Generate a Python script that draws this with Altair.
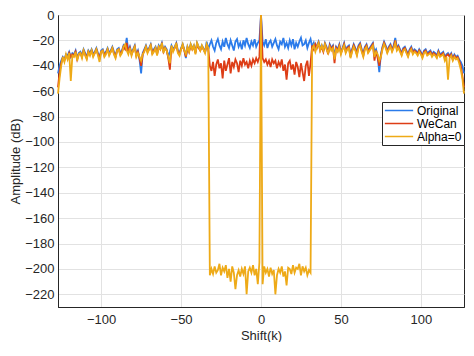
import altair as alt
import pandas as pd

shift = list(range(-127, 128))

original = [
    -46, -40, -36, -33, -35, -31, -32, -29, -33, -30,
    -31, -28, -34, -30, -29, -32, -27, -30, -33, -28,
    -30, -27, -31, -29, -26, -30, -33, -28, -27, -31,
    -29, -26, -30, -28, -25, -29, -32, -27, -26, -30,
    -28, -24, -26, -18, -29, -25, -30, -27, -24, -31,
    -28, -35, -46, -30, -27, -24, -28, -26, -23, -29,
    -27, -25, -30, -24, -26, -22, -28, -25, -27, -33,
    -29, -24, -27, -25, -22, -28, -30, -26, -23, -27,
    -34, -25, -28, -23, -26, -24, -29, -22, -25, -27,
    -24, -26, -30, -21, -27, -23, -20, -25, -28, -22,
    -19, -24, -27, -21, -25, -18, -23, -26, -20, -24,
    -28, -21, -19, -25, -22, -27, -20, -24, -18, -23,
    -26, -21, -24, -19, -25, -22, -20,
    0,
    -21, -24, -19, -26, -22, -20, -25,
    -22, -19, -24, -27, -21, -23, -18, -25, -22, -26,
    -20, -24, -19, -27, -22, -25, -21, -18, -24, -23,
    -20, -26, -22, -19, -25, -22, -27, -24, -21, -26,
    -24, -28, -22, -25, -30, -23, -26, -24, -33, -25,
    -27, -23, -29, -26, -22, -28, -25, -24, -31, -27,
    -23, -26, -29, -24, -22, -27, -30, -25, -23, -28,
    -26, -24, -22, -29, -27, -33, -45, -31, -25, -21,
    -24, -28, -25, -23, -27, -24, -18, -26, -24, -27,
    -30, -26, -25, -28, -31, -27, -25, -29, -27, -28,
    -30, -27, -29, -32, -28, -27, -30, -29, -28, -31,
    -29, -30, -32, -28, -31, -30, -29, -33, -31, -30,
    -32, -30, -34, -31, -33, -32, -35, -37, -40, -46,
]

wecan = [
    -57, -45, -38, -34, -36, -32, -34, -30, -33, -31,
    -32, -29, -35, -31, -30, -33, -28, -31, -34, -29,
    -31, -28, -32, -30, -27, -31, -34, -29, -28, -32,
    -30, -27, -31, -29, -26, -30, -33, -28, -27, -31,
    -29, -25, -27, -22, -30, -26, -31, -28, -25, -32,
    -29, -34, -40, -31, -28, -25, -29, -27, -24, -30,
    -28, -26, -31, -25, -27, -23, -29, -26, -28, -34,
    -43, -25, -28, -26, -23, -29, -31, -27, -24, -28,
    -33, -26, -29, -24, -27, -25, -30, -23, -26, -28,
    -25, -27, -29, -24, -26, -40, -44, -37, -48, -39,
    -35, -42, -38, -50, -36, -44, -39, -34, -46, -37,
    -41, -35, -38, -45, -36, -40, -34, -39, -37, -42,
    -36, -40, -35, -38, -34, -37, -33,
    0,
    -34, -37, -35, -39, -36, -41, -35,
    -38, -36, -42, -37, -40, -35, -44, -39, -51, -38,
    -36, -43, -39, -47, -37, -41, -49, -38, -45, -52,
    -40, -36, -48, -38, -24, -27, -23, -26, -22, -28,
    -25, -29, -23, -26, -31, -24, -27, -25, -38, -26,
    -28, -24, -30, -27, -23, -29, -26, -25, -33, -28,
    -24, -27, -31, -25, -23, -28, -32, -26, -24, -29,
    -27, -25, -23, -36, -28, -34, -40, -32, -26, -22,
    -25, -29, -26, -24, -28, -25, -20, -27, -25, -28,
    -31, -27, -26, -29, -32, -28, -26, -30, -28, -29,
    -31, -28, -30, -33, -29, -28, -31, -30, -29, -32,
    -30, -31, -33, -29, -32, -31, -30, -34, -32, -31,
    -33, -31, -35, -32, -34, -33, -36, -40, -48, -57,
]

alpha0 = [
    -62, -50, -40, -33, -37, -31, -35, -30, -52, -32,
    -33, -29, -36, -31, -30, -34, -28, -32, -35, -29,
    -32, -28, -33, -30, -27, -32, -37, -29, -28, -33,
    -31, -27, -32, -29, -26, -31, -34, -28, -27, -32,
    -30, -25, -23, -28, -31, -26, -32, -28, -25, -33,
    -30, -33, -36, -31, -29, -25, -30, -27, -24, -31,
    -29, -26, -32, -25, -27, -22, -30, -26, -28, -33,
    -38, -24, -29, -26, -22, -30, -32, -27, -23, -28,
    -31, -25, -29, -23, -27, -24, -31, -22, -25, -28,
    -24, -27, -30, -23, -26, -205, -200, -204, -198, -203,
    -201, -196, -205, -199, -202, -197, -207, -200, -210, -198,
    -203, -216, -205, -201, -206, -200, -204, -198, -220, -202,
    -199, -203, -197, -205, -200, -212, -195,
    0,
    -212, -198, -203, -200, -206, -199, -204,
    -201, -220, -205, -200, -203, -198, -206, -202, -213, -199,
    -200, -204, -197, -203, -199, -200, -196, -205, -198, -202,
    -199, -205, -201, -203, -27, -24, -29, -25, -22, -28,
    -24, -28, -23, -27, -30, -25, -28, -26, -35, -27,
    -29, -25, -31, -27, -24, -30, -27, -26, -34, -29,
    -25, -28, -32, -26, -24, -29, -33, -27, -25, -30,
    -28, -26, -24, -33, -29, -31, -36, -33, -27, -23,
    -26, -30, -27, -25, -29, -26, -22, -28, -26, -29,
    -32, -28, -27, -30, -33, -29, -27, -31, -29, -30,
    -32, -29, -31, -34, -30, -29, -32, -31, -30, -33,
    -31, -32, -34, -30, -33, -32, -31, -36, -33, -51,
    -34, -32, -36, -33, -35, -34, -38, -43, -50, -62,
]

series_names = ["Original", "WeCan", "Alpha=0"]
series_colors = ["#2b7bea", "#dd3d16", "#eeaa17"]
x_ticks = [-100, -50, 0, 50, 100]
y_ticks = [-220, -200, -180, -160, -140, -120, -100, -80, -60, -40, -20, 0]

rows = []
for name, vals in zip(series_names, [original, wecan, alpha0]):
    for k, v in zip(shift, vals):
        rows.append({"Shift": k, "Amplitude": v, "Series": name})
df = pd.DataFrame(rows)

x = alt.X("Shift:Q",
          scale=alt.Scale(domain=[-127, 127], nice=False, zero=False),
          axis=alt.Axis(values=x_ticks, title="Shift(k)", labelPadding=6, titlePadding=3))
y = alt.Y("Amplitude:Q",
          scale=alt.Scale(domain=[-230, 0], nice=False, zero=False),
          axis=alt.Axis(values=y_ticks, title="Amplitude (dB)", labelPadding=4, titlePadding=2))
color = alt.Color("Series:N",
                  scale=alt.Scale(domain=series_names, range=series_colors),
                  legend=alt.Legend(title=None, orient="none", legendX=324, legendY=87,
                                    symbolType="stroke", symbolSize=800,
                                    symbolStrokeWidth=1.5, labelFontSize=12,
                                    labelFont="Liberation Sans", labelColor="#000000",
                                    strokeColor="#262626", fillColor="white",
                                    padding=2, rowPadding=0, clipHeight=13, labelOffset=3))

layers = [
    alt.Chart(df).transform_filter(alt.datum.Series == name)
    .mark_line(strokeWidth=1.8)
    .encode(x=x, y=y, color=color)
    for name in series_names
]

chart = (
    alt.layer(*layers)
    .properties(width=406, height=292,
                autosize=alt.AutoSizeParams(type="none"),
                padding={"left": 50, "top": 7, "right": 2, "bottom": 35})
    .configure_view(stroke="#262626", strokeWidth=1)
    .configure_axis(labelFont="Liberation Sans", labelFontSize=13, labelColor="#262626",
                    titleFont="Liberation Sans", titleFontSize=13, titleFontWeight="normal",
                    titleColor="#262626", gridColor="#e2e2e2", domainColor="#262626",
                    ticks=False)
)

chart.save("out.html", embed_options={"renderer": "svg", "actions": False})
